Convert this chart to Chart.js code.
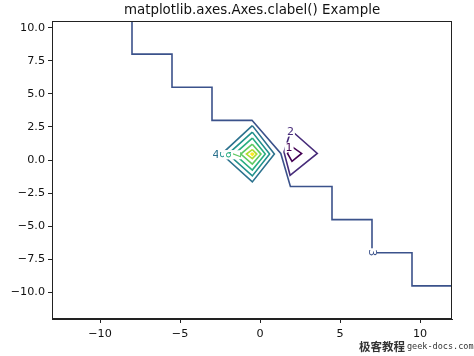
<!DOCTYPE html>
<html><head><meta charset="utf-8">
<script src="https://cdn.jsdelivr.net/npm/chart.js@4/dist/chart.umd.min.js"></script>
<style>html,body{margin:0;padding:0;background:#fff;overflow:hidden}canvas{display:block}</style>
</head><body>
<canvas id="c" width="474" height="356"></canvas>
<script>
const chartTitle = 'matplotlib.axes.Axes.clabel() Example';
const watermarkCN = '极客教程';
const watermarkEN = 'geek-docs.com';
const xTicks = [-10, -5, 0, 5, 10];
const yTicks = [-10, -7.5, -5, -2.5, 0, 2.5, 5, 7.5, 10];
const xRange = [-13, 12];
const yRange = [-12, 10.5];
const levels = [1, 2, 3, 4, 5, 6, 7, 8, 9];

// contour paths, one pair of arrays per level
const level1X = [1.95, 2.6, 2.0, 1.72, 1.95];
const level1Y = [1.05, 0.5, -0.1, 0.5, 1.05];
const level2X = [1.94, 3.58, 1.88, 1.5, 1.94];
const level2Y = [2.25, 0.5, -1.15, 0.6, 2.25];
const level3X = [-8, -8, -5.5, -5.5, -3, -3, -0.5, 1.3, 1.9, 4.5, 4.5, 7, 7, 9.5, 9.5, 12, 12];
const level3Y = [10.5, 8, 8, 5.5, 5.5, 3, 3, 0.5, -2, -2, -4.5, -4.5, -7, -7, -9.5, -9.5, -12];
const level4X = [-0.48, 0.9, -0.48, -2.4, -0.48];
const level4Y = [2.6, 0.45, -1.65, 0.45, 2.6];
const level5X = [-0.48, 0.6, -0.48, -2.0, -0.48];
const level5Y = [2.11, 0.45, -1.2, 0.45, 2.11];
const level6X = [-0.48, 0.33, -0.48, -1.6, -0.48];
const level6Y = [1.66, 0.45, -0.75, 0.45, 1.66];
const level7X = [-0.48, 0.06, -0.48, -1.2, -0.48];
const level7Y = [1.2, 0.45, -0.3, 0.45, 1.2];
const level8X = [-0.48, -0.2, -0.48, -0.85, -0.48];
const level8Y = [0.79, 0.45, 0.11, 0.45, 0.79];
const level9X = [-0.48, -0.4, -0.48, -0.56, -0.48];
const level9Y = [0.55, 0.45, 0.35, 0.45, 0.55];

// contour labels
const labelText = ['1', '2', '3', '4', '5', '6', '7'];
const labelX = [1.82, 1.9, 7.0, -2.75, -2.31, -1.94, -1.5];
const labelY = [0.95, 2.15, -7.0, 0.4, 0.4, 0.4, 0.4];
const labelLevel = [1, 2, 3, 4, 5, 6, 7];

// styles
const viridis = ['#440154', '#472c7a', '#3b528b', '#2c728e', '#21918c', '#28ae80', '#5ec962', '#addc30', '#fde725'];
const labelRot = [0, 0, Math.PI / 2, 0, Math.PI / 2, Math.PI / 2, Math.PI / 2];
const FONT = "'DejaVu Sans', sans-serif";

const paths = [
  [level1X, level1Y], [level2X, level2Y], [level3X, level3Y],
  [level4X, level4Y], [level5X, level5Y], [level6X, level6Y],
  [level7X, level7Y], [level8X, level8Y], [level9X, level9Y]
];
const colorOf = lv => viridis[levels.indexOf(lv)];

const datasets = paths.map((p, i) => ({
  label: String(levels[i]),
  data: p[0].map((x, j) => ({x: x, y: p[1][j]})),
  showLine: true,
  borderColor: colorOf(levels[i]),
  backgroundColor: colorOf(levels[i]),
  borderWidth: 1.6,
  pointRadius: 0,
  fill: false,
  tension: 0
}));

const fmt = v => String(Math.abs(v) < 1e-9 ? 0 : v).replace('-', '\u2212');
const fmtY = v => (Math.abs(v) < 1e-9 ? 0 : v).toFixed(1).replace('-', '\u2212');

const extras = {
  id: 'extras',
  afterDatasetsDraw(chart) {
    const ctx = chart.ctx, xs = chart.scales.x, ys = chart.scales.y;
    ctx.save();
    ctx.font = '11px ' + FONT;
    ctx.textAlign = 'center';
    ctx.textBaseline = 'middle';
    labelText.forEach((t, i) => {
      const px = xs.getPixelForValue(labelX[i]);
      const py = ys.getPixelForValue(labelY[i]);
      ctx.save();
      ctx.translate(px, py);
      ctx.rotate(labelRot[i]);
      const w = ctx.measureText(t).width;
      ctx.fillStyle = '#fff';
      ctx.fillRect(-w / 2 - 1, -5, w + 2, 10);
      ctx.fillStyle = colorOf(labelLevel[i]);
      ctx.fillText(t, 0, 0.5);
      ctx.restore();
    });
    ctx.restore();
  },
  afterDraw(chart) {
    const ctx = chart.ctx, a = chart.chartArea;
    ctx.save();
    ctx.strokeStyle = '#222';
    ctx.lineWidth = 1;
    ctx.strokeRect(Math.round(a.left) + 0.5, Math.round(a.top) + 0.5,
      Math.round(a.right - a.left) - 1, Math.round(a.bottom - a.top) - 1);
    ctx.fillStyle = '#111';
    ctx.font = '13.4px ' + FONT;
    ctx.textAlign = 'center';
    ctx.textBaseline = 'middle';
    ctx.fillText(chartTitle, (a.left + a.right) / 2, 10.5);
    ctx.fillStyle = '#333';
    ctx.textAlign = 'left';
    ctx.font = "bold 11.5px 'Noto Sans CJK SC'";
    ctx.fillText(watermarkCN, 359, 347);
    ctx.font = "8.5px 'DejaVu Sans Mono', monospace";
    ctx.fillText(watermarkEN, 407, 347);
    ctx.restore();
  }
};

new Chart(document.getElementById('c'), {
  type: 'scatter',
  data: {datasets: datasets},
  options: {
    responsive: false,
    devicePixelRatio: 1,
    animation: false,
    layout: {padding: {left: 0, right: 22, top: 21, bottom: 0}},
    plugins: {legend: {display: false}, tooltip: {enabled: false}, title: {display: false}},
    scales: {
      x: {
        type: 'linear', min: xRange[0], max: xRange[1],
        afterBuildTicks: s => { s.ticks = xTicks.map(v => ({value: v})); },
        afterFit: s => { s.height = 37; },
        ticks: {callback: v => fmt(v), font: {family: FONT, size: 11.2}, color: '#111', padding: 4, maxRotation: 0, autoSkip: false},
        grid: {drawOnChartArea: false, drawTicks: true, tickLength: 4, tickColor: '#222'},
        border: {display: true, color: '#222', width: 1}
      },
      y: {
        type: 'linear', min: yRange[0], max: yRange[1],
        afterBuildTicks: s => { s.ticks = yTicks.map(v => ({value: v})); },
        afterFit: s => { s.width = 52; },
        ticks: {callback: v => fmtY(v), font: {family: FONT, size: 11.2}, color: '#111', padding: 3, autoSkip: false},
        grid: {drawOnChartArea: false, drawTicks: true, tickLength: 4, tickColor: '#222'},
        border: {display: true, color: '#222', width: 1}
      }
    }
  },
  plugins: [extras]
});
</script>
</body></html>
